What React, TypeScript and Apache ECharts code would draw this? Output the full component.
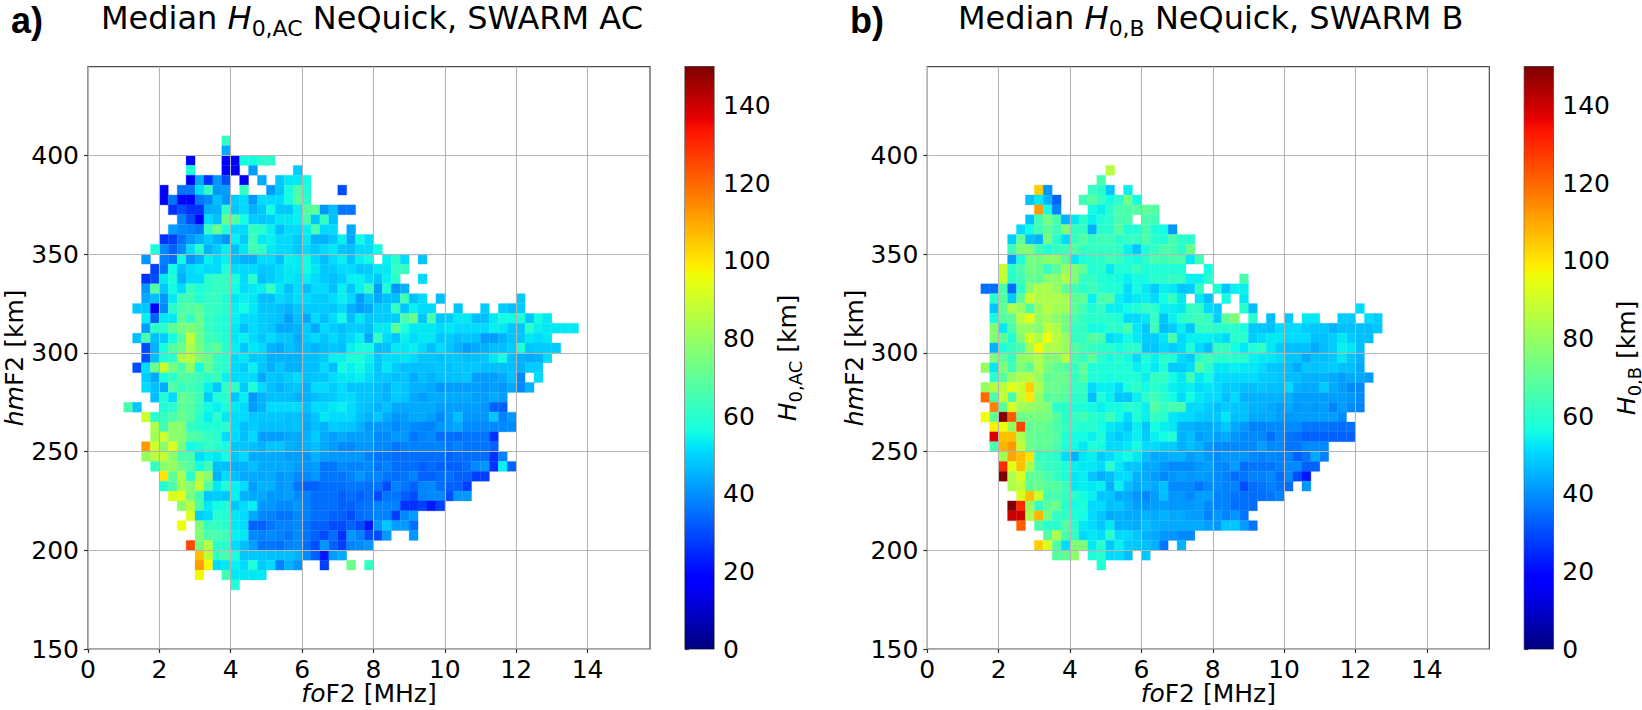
import React, { useEffect, useRef } from "react";
import * as echarts from "echarts";

// Each row: [lower hmF2 edge in km, index of first foF2 bin (0.25 MHz wide), ...median H0 values; 0 = empty bin]
const rowsA: number[][] = [
  [405, 15, 62],
  [400, 15, 44],
  [395, 11, 17, 0, 0, 0, 17, 17, 56, 56, 60, 60],
  [390, 11, 58, 0, 0, 0, 17, 17, 0, 42, 0, 0, 0, 0, 49],
  [385, 11, 17, 44, 26, 41, 30, 0, 17, 0, 44, 0, 48, 53, 53, 56],
  [380, 8, 17, 0, 36, 36, 51, 62, 41, 42, 0, 62, 0, 0, 41, 48, 56, 66, 58, 0, 0, 0, 30],
  [375, 8, 17, 36, 17, 17, 36, 39, 47, 41, 49, 51, 41, 51, 51, 51, 56, 68, 60],
  [370, 9, 26, 30, 26, 26, 44, 45, 60, 48, 51, 45, 48, 56, 48, 48, 54, 68, 70, 41, 47, 36, 36],
  [365, 10, 38, 30, 17, 51, 47, 72, 68, 56, 49, 48, 49, 53, 53, 54, 66, 48, 62, 47],
  [360, 9, 42, 39, 38, 36, 62, 72, 58, 51, 51, 62, 60, 54, 47, 51, 51, 54, 66, 51, 51, 0, 44],
  [355, 8, 26, 28, 36, 41, 45, 49, 45, 41, 54, 49, 64, 53, 54, 51, 51, 48, 53, 45, 45, 48, 54, 44, 56, 51],
  [350, 7, 58, 39, 33, 39, 51, 60, 45, 49, 54, 47, 53, 64, 62, 53, 51, 51, 48, 51, 48, 51, 53, 48, 47, 51, 51, 56],
  [345, 6, 41, 0, 38, 35, 56, 41, 45, 54, 51, 54, 47, 45, 45, 51, 51, 47, 54, 53, 56, 51, 47, 51, 54, 48, 54, 56, 0, 54, 60, 51, 0, 48],
  [340, 7, 28, 36, 56, 47, 51, 53, 51, 51, 58, 51, 51, 51, 48, 49, 51, 53, 53, 56, 53, 48, 49, 51, 51, 48, 49, 53, 53, 62, 62],
  [335, 6, 26, 30, 53, 58, 45, 51, 51, 60, 62, 62, 58, 51, 60, 47, 49, 51, 53, 51, 54, 51, 49, 47, 49, 54, 54, 51, 48, 54, 60, 0, 0, 51],
  [330, 6, 41, 68, 48, 56, 51, 62, 58, 60, 62, 62, 56, 51, 53, 54, 62, 53, 47, 51, 47, 51, 51, 47, 54, 48, 54, 62, 42, 58, 41, 45],
  [325, 6, 44, 47, 41, 53, 64, 64, 58, 62, 62, 58, 53, 54, 53, 47, 47, 51, 49, 51, 51, 49, 49, 51, 54, 51, 42, 48, 44, 47, 47, 64, 47, 51, 0, 47, 0, 0, 0, 0, 0, 0, 0, 0, 49],
  [320, 5, 48, 48, 17, 39, 60, 66, 68, 70, 62, 62, 60, 54, 56, 53, 48, 48, 47, 45, 48, 49, 49, 49, 48, 51, 45, 42, 44, 49, 49, 62, 48, 54, 51, 51, 0, 0, 48, 0, 0, 49, 0, 49, 47, 49],
  [315, 6, 54, 33, 53, 53, 70, 62, 72, 62, 60, 58, 54, 51, 51, 49, 48, 47, 42, 47, 44, 51, 47, 51, 56, 47, 53, 48, 49, 49, 49, 66, 72, 48, 66, 48, 49, 53, 53, 47, 47, 53, 56, 56, 58, 48, 56, 53],
  [310, 6, 42, 60, 60, 70, 74, 76, 72, 62, 60, 58, 53, 47, 51, 49, 48, 44, 44, 45, 49, 44, 51, 49, 47, 49, 49, 47, 53, 53, 70, 58, 53, 53, 53, 51, 53, 51, 51, 51, 51, 54, 53, 48, 48, 60, 54, 53, 53, 53, 53],
  [305, 5, 47, 66, 47, 49, 56, 68, 88, 72, 64, 62, 58, 53, 54, 51, 48, 51, 48, 48, 44, 49, 51, 48, 51, 48, 51, 54, 44, 62, 51, 48, 54, 51, 53, 53, 48, 49, 47, 48, 47, 42, 42, 45, 48, 48, 53, 51, 53],
  [300, 6, 30, 45, 56, 68, 72, 84, 74, 66, 70, 60, 54, 48, 53, 51, 45, 44, 47, 45, 47, 45, 47, 48, 47, 54, 56, 56, 47, 47, 53, 53, 54, 51, 47, 51, 48, 45, 42, 44, 45, 47, 47, 49, 58, 48, 49, 49, 49],
  [295, 6, 30, 47, 58, 60, 84, 86, 76, 72, 62, 60, 51, 53, 48, 49, 45, 45, 45, 45, 47, 47, 49, 54, 54, 58, 58, 54, 48, 51, 51, 53, 51, 48, 48, 47, 48, 48, 47, 47, 48, 53, 56, 47, 45, 44, 45, 51],
  [290, 5, 30, 51, 72, 90, 74, 66, 78, 56, 70, 62, 60, 51, 49, 54, 48, 45, 48, 45, 45, 47, 47, 51, 47, 56, 54, 56, 53, 48, 53, 49, 47, 47, 47, 47, 48, 47, 48, 48, 48, 47, 47, 47, 47, 45, 49, 49],
  [285, 6, 49, 44, 58, 60, 68, 66, 64, 60, 64, 54, 51, 51, 51, 44, 48, 47, 49, 51, 47, 48, 48, 51, 53, 53, 54, 51, 48, 48, 47, 48, 44, 47, 45, 47, 47, 47, 48, 42, 42, 42, 44, 47, 39, 0, 51],
  [280, 6, 51, 47, 44, 68, 62, 64, 62, 54, 48, 62, 62, 49, 58, 51, 47, 45, 47, 48, 45, 51, 51, 49, 51, 48, 48, 48, 47, 45, 49, 48, 45, 45, 44, 41, 42, 42, 42, 42, 41, 42, 41, 44, 39, 45],
  [275, 7, 47, 58, 51, 72, 68, 64, 49, 58, 60, 48, 54, 41, 45, 47, 47, 47, 45, 45, 47, 48, 49, 51, 51, 48, 48, 47, 45, 49, 48, 44, 42, 44, 44, 44, 44, 44, 42, 42, 44, 42],
  [270, 4, 66, 48, 0, 0, 58, 60, 70, 68, 62, 56, 54, 58, 53, 51, 42, 45, 51, 51, 51, 51, 47, 51, 51, 53, 54, 51, 48, 47, 45, 47, 44, 44, 44, 44, 44, 42, 42, 42, 42, 42, 41, 33, 33],
  [265, 6, 90, 60, 62, 66, 72, 68, 60, 54, 60, 53, 51, 51, 48, 48, 48, 48, 47, 47, 45, 48, 53, 51, 51, 51, 47, 45, 48, 44, 41, 42, 44, 44, 42, 39, 42, 47, 41, 41, 41, 48, 38, 41],
  [260, 7, 84, 64, 78, 78, 62, 60, 58, 58, 60, 51, 47, 49, 47, 47, 47, 47, 47, 44, 47, 45, 49, 48, 48, 45, 41, 41, 41, 39, 41, 39, 38, 38, 41, 42, 44, 39, 39, 39, 39, 39, 39],
  [255, 7, 82, 90, 78, 78, 68, 66, 62, 60, 51, 51, 47, 51, 42, 42, 42, 44, 44, 45, 49, 44, 42, 44, 42, 42, 42, 39, 39, 41, 41, 36, 38, 39, 35, 35, 35, 36, 36, 36, 26],
  [250, 6, 112, 90, 78, 92, 74, 56, 58, 62, 60, 56, 48, 48, 47, 45, 48, 48, 45, 44, 45, 47, 44, 42, 39, 39, 41, 41, 39, 39, 36, 38, 38, 38, 38, 38, 36, 38, 36, 36, 36, 33],
  [245, 6, 80, 86, 88, 78, 66, 66, 51, 54, 53, 56, 48, 51, 44, 44, 44, 44, 42, 42, 41, 45, 42, 41, 41, 41, 41, 38, 36, 36, 35, 35, 35, 35, 35, 35, 33, 35, 35, 35, 35, 26, 38],
  [240, 7, 62, 78, 80, 72, 68, 56, 64, 47, 47, 45, 45, 47, 44, 44, 44, 44, 42, 41, 42, 36, 36, 39, 38, 38, 39, 36, 38, 35, 35, 35, 33, 35, 33, 33, 33, 35, 39, 41, 26, 54, 33],
  [235, 8, 100, 70, 84, 60, 84, 78, 45, 51, 47, 44, 44, 44, 44, 41, 42, 39, 39, 41, 36, 36, 36, 38, 41, 38, 38, 36, 35, 36, 38, 33, 33, 35, 35, 33, 33, 28, 28],
  [230, 8, 58, 66, 82, 76, 88, 68, 53, 58, 54, 51, 42, 45, 45, 41, 42, 36, 33, 33, 35, 35, 35, 36, 36, 35, 36, 30, 38, 36, 33, 38, 39, 35, 33, 33, 28],
  [225, 9, 92, 94, 74, 64, 48, 49, 48, 54, 45, 44, 44, 41, 41, 42, 39, 38, 35, 35, 35, 33, 35, 33, 35, 30, 36, 36, 33, 30, 38, 39, 39, 30, 41, 41],
  [220, 10, 78, 86, 66, 53, 56, 58, 48, 51, 54, 41, 41, 39, 39, 41, 38, 35, 35, 35, 33, 33, 35, 36, 38, 38, 38, 26, 26, 28, 22, 28],
  [215, 11, 92, 49, 51, 60, 58, 53, 51, 44, 39, 38, 36, 36, 39, 38, 35, 35, 33, 33, 30, 35, 36, 38, 38, 28, 39, 42],
  [210, 10, 96, 0, 76, 62, 62, 60, 53, 51, 33, 33, 36, 38, 38, 39, 36, 33, 33, 30, 30, 33, 30, 22, 41, 48, 42, 42, 35],
  [205, 12, 76, 66, 66, 64, 54, 53, 39, 38, 39, 38, 36, 39, 36, 33, 30, 35, 26, 41, 38, 30, 30, 41, 0, 0, 41],
  [200, 11, 125, 74, 86, 60, 60, 51, 47, 42, 36, 36, 35, 38, 39, 35, 30, 41, 33, 28, 38, 39, 41],
  [195, 12, 106, 88, 62, 66, 58, 48, 48, 48, 47, 47, 47, 45, 39, 33, 22, 42, 44],
  [190, 12, 112, 97, 51, 53, 54, 51, 58, 49, 51, 38, 45, 41, 0, 0, 28, 0, 0, 72, 0, 62],
  [185, 12, 97, 0, 0, 64, 53, 53, 53, 53],
  [180, 16, 58],
];

const rowsB: number[][] = [
  [390, 20, 86],
  [385, 19, 66],
  [380, 12, 104, 41, 0, 0, 0, 0, 62, 60, 48, 0, 54],
  [375, 11, 47, 53, 45, 33, 0, 0, 64, 68, 62, 56, 60, 74, 56],
  [370, 12, 112, 56, 38, 0, 0, 0, 56, 54, 60, 66, 66, 68, 70, 68],
  [365, 11, 47, 64, 74, 66, 45, 53, 60, 54, 58, 60, 66, 66, 0, 66, 64],
  [360, 10, 51, 56, 64, 70, 64, 76, 62, 62, 45, 60, 60, 68, 58, 58, 66, 58, 56, 41],
  [355, 9, 49, 70, 47, 45, 74, 60, 51, 62, 68, 62, 64, 64, 60, 62, 62, 66, 60, 58, 66, 60, 60],
  [350, 9, 64, 76, 76, 64, 58, 62, 64, 68, 62, 62, 62, 62, 62, 54, 48, 58, 62, 66, 66, 60, 72],
  [345, 9, 42, 58, 74, 74, 78, 78, 68, 53, 58, 60, 60, 64, 62, 58, 56, 60, 66, 64, 66, 66, 53, 64],
  [340, 8, 88, 60, 66, 74, 72, 62, 68, 80, 76, 70, 58, 60, 53, 58, 58, 62, 58, 58, 58, 58, 58, 0, 0, 56],
  [335, 8, 88, 60, 64, 72, 70, 78, 78, 84, 76, 62, 62, 58, 58, 56, 54, 56, 56, 60, 60, 62, 62, 54, 54, 60, 0, 0, 0, 66],
  [330, 6, 35, 35, 66, 35, 60, 78, 84, 84, 80, 70, 64, 60, 64, 60, 58, 58, 51, 56, 53, 49, 54, 53, 48, 49, 62, 0, 58, 48, 54, 54],
  [325, 7, 60, 68, 49, 70, 90, 84, 84, 84, 82, 70, 70, 54, 66, 68, 54, 51, 53, 54, 51, 56, 62, 53, 0, 53, 47, 0, 56, 0, 53],
  [320, 7, 48, 70, 84, 80, 66, 80, 86, 82, 82, 70, 64, 58, 62, 54, 54, 56, 58, 62, 60, 54, 54, 53, 62, 62, 51, 49, 0, 0, 60, 47, 0, 0, 0, 0, 0, 0, 0, 0, 0, 0, 0, 51],
  [315, 7, 56, 68, 70, 86, 94, 80, 82, 78, 74, 66, 62, 60, 60, 60, 58, 51, 51, 53, 62, 48, 54, 60, 62, 64, 62, 49, 70, 76, 0, 60, 0, 47, 0, 49, 0, 53, 53, 0, 0, 49, 49, 0, 51, 49],
  [310, 7, 76, 53, 66, 80, 80, 76, 88, 84, 74, 62, 62, 56, 56, 60, 60, 66, 53, 48, 64, 47, 49, 54, 48, 62, 62, 60, 60, 60, 58, 48, 48, 47, 51, 51, 51, 49, 48, 48, 45, 47, 47, 47, 47, 48],
  [305, 7, 76, 70, 58, 76, 92, 84, 96, 86, 80, 62, 62, 68, 66, 51, 53, 56, 53, 49, 49, 53, 66, 51, 54, 54, 54, 53, 51, 60, 60, 49, 51, 53, 53, 51, 51, 51, 47, 47, 49, 53, 49, 47, 47],
  [300, 7, 45, 58, 62, 66, 82, 97, 84, 84, 80, 68, 64, 62, 60, 60, 56, 60, 60, 48, 48, 51, 49, 51, 58, 51, 47, 62, 62, 56, 53, 58, 62, 53, 49, 47, 47, 47, 44, 47, 49, 54, 53, 47],
  [295, 7, 76, 70, 62, 78, 80, 84, 76, 76, 86, 66, 62, 70, 60, 56, 60, 56, 51, 58, 54, 60, 58, 51, 49, 60, 64, 60, 60, 60, 60, 54, 53, 53, 51, 48, 48, 44, 47, 47, 48, 53, 48, 45],
  [290, 6, 80, 53, 76, 64, 76, 70, 84, 74, 70, 68, 62, 70, 58, 58, 58, 58, 58, 54, 56, 53, 58, 49, 49, 51, 68, 60, 53, 53, 54, 53, 53, 51, 48, 48, 47, 44, 48, 47, 48, 49, 47, 47, 44],
  [285, 7, 60, 68, 80, 84, 86, 80, 70, 72, 72, 62, 68, 58, 58, 56, 58, 58, 58, 54, 62, 62, 56, 53, 64, 53, 56, 51, 51, 51, 51, 51, 49, 49, 48, 47, 47, 45, 45, 45, 44, 42, 44, 44, 42],
  [280, 6, 80, 86, 86, 94, 90, 104, 84, 72, 72, 70, 62, 62, 51, 54, 54, 51, 58, 60, 56, 60, 58, 54, 53, 54, 51, 53, 51, 49, 49, 47, 47, 48, 47, 47, 51, 45, 44, 44, 49, 44, 42, 39, 39],
  [275, 6, 120, 66, 88, 66, 88, 100, 80, 68, 70, 68, 60, 62, 47, 58, 54, 48, 48, 54, 60, 64, 60, 56, 51, 56, 53, 51, 51, 47, 51, 45, 45, 45, 45, 45, 45, 42, 42, 42, 42, 42, 42, 41, 39],
  [270, 7, 116, 70, 92, 82, 80, 78, 76, 60, 60, 58, 58, 56, 54, 56, 56, 60, 58, 54, 68, 62, 66, 66, 51, 51, 49, 47, 49, 48, 47, 45, 45, 44, 42, 44, 41, 42, 41, 42, 38, 42, 39, 38],
  [265, 6, 96, 70, 150, 122, 72, 74, 74, 74, 68, 60, 62, 64, 60, 58, 64, 56, 51, 58, 54, 62, 60, 53, 51, 51, 49, 48, 48, 53, 47, 47, 44, 44, 44, 42, 41, 42, 42, 42, 42, 42, 39],
  [260, 7, 98, 96, 80, 126, 70, 72, 70, 66, 62, 60, 58, 60, 56, 53, 51, 48, 54, 48, 56, 54, 53, 45, 45, 44, 44, 45, 48, 44, 41, 38, 38, 39, 39, 39, 39, 36, 36, 36, 35, 35, 35],
  [255, 7, 138, 106, 106, 84, 72, 70, 70, 68, 58, 56, 56, 54, 58, 51, 49, 51, 54, 49, 54, 56, 58, 45, 47, 42, 44, 42, 44, 41, 39, 39, 39, 35, 39, 36, 35, 33, 33, 33, 33, 33, 33],
  [250, 7, 66, 108, 112, 88, 72, 70, 70, 66, 58, 56, 53, 58, 56, 51, 51, 53, 56, 51, 51, 49, 49, 45, 47, 45, 41, 39, 39, 39, 39, 39, 42, 39, 39, 36, 36, 39, 39, 39],
  [245, 8, 82, 110, 106, 100, 62, 62, 60, 51, 45, 53, 54, 49, 51, 54, 56, 53, 47, 44, 44, 45, 45, 42, 44, 41, 39, 41, 41, 41, 39, 38, 39, 38, 38, 33, 36, 44, 38],
  [240, 8, 130, 94, 106, 84, 66, 62, 62, 58, 54, 53, 53, 51, 60, 53, 48, 48, 44, 44, 41, 39, 39, 39, 41, 42, 39, 39, 42, 35, 36, 36, 36, 38, 39, 39, 33, 33],
  [235, 8, 150, 84, 92, 70, 70, 66, 62, 58, 53, 54, 48, 45, 47, 51, 51, 45, 44, 42, 39, 41, 42, 41, 42, 41, 39, 38, 35, 36, 38, 38, 39, 35, 39, 30, 22],
  [230, 9, 84, 88, 70, 72, 68, 68, 64, 53, 54, 53, 54, 45, 54, 47, 44, 45, 44, 47, 39, 39, 39, 36, 39, 39, 38, 38, 30, 35, 36, 38, 36, 35, 0, 41],
  [225, 10, 92, 106, 90, 64, 66, 62, 60, 56, 54, 48, 48, 44, 44, 41, 39, 42, 47, 41, 41, 39, 42, 42, 38, 38, 36, 35, 35, 35, 36, 38],
  [220, 9, 150, 130, 80, 62, 70, 72, 60, 56, 58, 51, 51, 47, 48, 45, 42, 41, 42, 42, 41, 41, 41, 42, 39, 38, 38, 35, 35, 35],
  [215, 9, 140, 140, 84, 108, 74, 62, 62, 58, 56, 51, 48, 44, 45, 44, 44, 45, 44, 45, 44, 44, 42, 42, 38, 41, 38, 41, 36],
  [210, 10, 122, 0, 66, 60, 60, 68, 60, 53, 51, 48, 53, 45, 45, 44, 47, 45, 44, 44, 44, 44, 44, 42, 41, 48, 48, 42, 36],
  [205, 13, 68, 84, 66, 62, 51, 53, 51, 60, 51, 51, 48, 45, 44, 41, 41, 39, 39],
  [200, 12, 104, 92, 68, 51, 76, 76, 53, 60, 48, 54, 49, 48, 47, 45, 36, 0, 45],
  [195, 14, 68, 70, 78, 0, 58, 60, 51, 51, 47, 0, 48],
  [190, 19, 58],
];

const foTicks = [0, 2, 4, 6, 8, 10, 12, 14];
const hmTicks = [150, 200, 250, 300, 350, 400];
const cbTicks = [0, 20, 40, 60, 80, 100, 120, 140];
const foBin = 0.25;
const hmBin = 5;
const foMax = 15.75;
const hmMin = 150;
const hmMax = 445;
const cbMax = 150;

// matplotlib "jet" breakpoints: [position, r, g, b]
const jet: number[][] = [
  [0, 0, 0, 127], [0.11, 0, 0, 255], [0.125, 0, 0, 255], [0.34, 0, 219, 255],
  [0.35, 0, 230, 247], [0.375, 20, 255, 226], [0.64, 238, 255, 8], [0.65, 247, 245, 0],
  [0.66, 255, 236, 0], [0.89, 255, 19, 0], [0.91, 232, 0, 0], [1, 127, 0, 0],
];

function jetColor(v: number): string {
  const t = Math.max(0, Math.min(1, v / cbMax));
  for (let i = 1; i < jet.length; i++) {
    if (t <= jet[i][0]) {
      const a = jet[i - 1];
      const b = jet[i];
      const k = (t - a[0]) / (b[0] - a[0]);
      const c = [1, 2, 3].map((j) => Math.round(a[j] + (b[j] - a[j]) * k));
      return `rgb(${c[0]},${c[1]},${c[2]})`;
    }
  }
  return "rgb(127,0,0)";
}

function toCells(rows: number[][]): number[][] {
  const out: number[][] = [];
  rows.forEach((r) => {
    const [hm, first, ...vals] = r;
    vals.forEach((v, i) => {
      if (v > 0) out.push([(first + i) * foBin, hm, v]);
    });
  });
  return out;
}

const FONT = "DejaVu Sans";
const TEXT = "#000";

const cellSeries = (idx: number, rows: number[][]) => ({
  type: "custom" as const,
  xAxisIndex: idx,
  yAxisIndex: idx,
  coordinateSystem: "cartesian2d",
  data: toCells(rows),
  encode: { x: 0, y: 1 },
  silent: true,
  renderItem: (_p: any, api: any) => {
    const a = api.coord([api.value(0), api.value(1)]);
    const b = api.coord([api.value(0) + foBin, api.value(1) + hmBin]);
    const col = jetColor(api.value(2));
    return {
      type: "rect",
      shape: { x: a[0], y: b[1], width: b[0] - a[0], height: a[1] - b[1] },
      style: { fill: col, stroke: col, lineWidth: 0.3 },
    };
  },
});

const barSeries = (idx: number) => ({
  type: "custom" as const,
  xAxisIndex: idx,
  yAxisIndex: idx,
  coordinateSystem: "cartesian2d",
  data: [[0, 0, 1, cbMax]],
  encode: { x: 0, y: 1 },
  silent: true,
  renderItem: (_p: any, api: any) => {
    const a = api.coord([0, 0]);
    const b = api.coord([1, cbMax]);
    return {
      type: "rect",
      shape: { x: a[0], y: b[1], width: b[0] - a[0], height: a[1] - b[1] },
      style: {
        fill: new echarts.graphic.LinearGradient(
          0, 1, 0, 0,
          jet.map((s) => ({ offset: s[0], color: `rgb(${s[1]},${s[2]},${s[3]})` }))
        ),
      },
    };
  },
});

const richBase = (size: number) => ({
  i: { fontFamily: FONT, fontSize: size, fontStyle: "italic" as const, color: TEXT },
  s: { fontFamily: FONT, fontSize: Math.round(size * 0.7), color: TEXT, verticalAlign: "bottom" as const },
  n: { fontFamily: FONT, fontSize: size, color: TEXT, lineHeight: Math.round(size * 1.32) },
});

const titleItem = (left: number, text: string) => ({
  left,
  top: -3,
  padding: 0,
  text,
  textStyle: { fontFamily: FONT, fontSize: 32, fontWeight: "normal" as const, color: TEXT, rich: richBase(32) },
});

const tagItem = (left: number, text: string) => ({
  left,
  top: 2,
  padding: 0,
  text,
  textStyle: { fontFamily: "Liberation Sans", fontSize: 36, fontWeight: "bold" as const, color: TEXT },
});

const frame = {
  show: true,
  borderColor: "#4d4d4d",
  borderWidth: 1.2,
  backgroundColor: "transparent",
  outerBoundsMode: "none" as const,
};

const mainX = (gridIndex: number) => ({
  type: "value" as const,
  gridIndex,
  min: 0,
  max: foMax,
  z: 5,
  name: "{i|fo}{r|F2 [MHz]}",
  nameLocation: "middle" as const,
  nameMoveOverlap: false,
  nameGap: 32,
  nameTextStyle: {
    rich: {
      i: { fontFamily: FONT, fontSize: 25, fontStyle: "italic" as const, color: TEXT },
      r: { fontFamily: FONT, fontSize: 25, color: TEXT },
    },
  },
  axisLine: { show: false },
  axisTick: { show: true, length: 4, customValues: foTicks, lineStyle: { color: "#333", width: 1.2 } },
  axisLabel: { customValues: foTicks, margin: 8, fontFamily: FONT, fontSize: 25, color: TEXT },
  splitLine: { show: true, lineStyle: { color: "#b5b5b5", width: 1.1 } },
});

const mainY = (gridIndex: number) => ({
  type: "value" as const,
  gridIndex,
  min: hmMin,
  max: hmMax,
  z: 5,
  name: "{i|hm}{r|F2 [km]}",
  nameLocation: "middle" as const,
  nameRotate: 90,
  nameGap: 59,
  nameTextStyle: {
    rich: {
      i: { fontFamily: FONT, fontSize: 25, fontStyle: "italic" as const, color: TEXT },
      r: { fontFamily: FONT, fontSize: 25, color: TEXT },
    },
  },
  axisLine: { show: false },
  axisTick: { show: true, length: 4, customValues: hmTicks, lineStyle: { color: "#333", width: 1.2 } },
  axisLabel: { customValues: hmTicks, margin: 9, fontFamily: FONT, fontSize: 25, color: TEXT },
  splitLine: { show: true, lineStyle: { color: "#b5b5b5", width: 1.1 } },
});

const barX = (gridIndex: number) => ({ type: "value" as const, gridIndex, min: 0, max: 1, show: false });

const barY = (gridIndex: number, sub: string) => ({
  type: "value" as const,
  gridIndex,
  position: "right" as const,
  min: 0,
  max: cbMax,
  name: `{i|H}{s|${sub}}{r| [km]}`,
  nameLocation: "middle" as const,
  nameRotate: 90,
  nameGap: 57,
  nameTextStyle: {
    rich: {
      i: { fontFamily: FONT, fontSize: 25, fontStyle: "italic" as const, color: TEXT },
      s: { fontFamily: FONT, fontSize: 18, color: TEXT, verticalAlign: "bottom" as const },
      r: { fontFamily: FONT, fontSize: 25, color: TEXT, lineHeight: 33 },
    },
  },
  axisLine: { show: false },
  axisTick: { show: true, length: 4, customValues: cbTicks, lineStyle: { color: "#333", width: 1.2 } },
  axisLabel: { customValues: cbTicks, margin: 9, fontFamily: FONT, fontSize: 25, color: TEXT },
  splitLine: { show: false },
});

export default function App() {
  const ref = useRef<HTMLDivElement>(null);
  useEffect(() => {
    const chart = echarts.init(ref.current!, undefined, { renderer: "svg" });
    chart.setOption({
      animation: false,
      backgroundColor: "#fff",
      textStyle: { fontFamily: FONT },
      title: [
        tagItem(11, "a)"),
        titleItem(101, "{n|Median }{i|H}{s|0,AC}{n| NeQuick, SWARM AC}"),
        tagItem(850, "b)"),
        titleItem(958, "{n|Median }{i|H}{s|0,B}{n| NeQuick, SWARM B}"),
      ],
      grid: [
        { left: 88, top: 66.7, width: 562, height: 582.3, ...frame },
        { left: 685, top: 66.7, width: 29, height: 582.3, ...frame },
        { left: 927.3, top: 66.7, width: 562, height: 582.3, ...frame },
        { left: 1524.3, top: 66.7, width: 29, height: 582.3, ...frame },
      ],
      xAxis: [mainX(0), barX(1), mainX(2), barX(3)],
      yAxis: [mainY(0), barY(1, "0,AC"), mainY(2), barY(3, "0,B")],
      series: [cellSeries(0, rowsA), barSeries(1), cellSeries(2, rowsB), barSeries(3)],
    });
    return () => chart.dispose();
  }, []);
  return (
    <div
      ref={ref}
      style={{ position: "absolute", left: 0, top: 0, width: 1642, height: 710 }}
    />
  );
}
